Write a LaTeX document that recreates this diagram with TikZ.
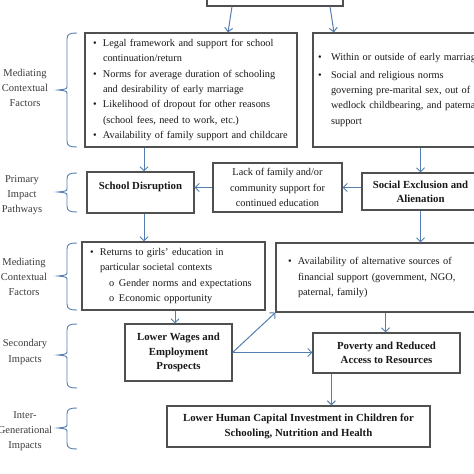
\documentclass[tikz,border=0pt]{standalone}
\usepackage{fontspec}
\setmainfont{Liberation Serif}
\usetikzlibrary{arrows.meta,calc}
\definecolor{arrowblue}{RGB}{84,126,176}
\definecolor{boxgray}{RGB}{80,80,80}
\definecolor{txt}{RGB}{25,25,25}
\definecolor{labtxt}{RGB}{60,60,60}
\newcommand\bitem[2]{\mbox{\makebox[#1][l]{\textbullet}#2}}
\newcommand\cont[2]{\mbox{\hspace*{#1}#2}}
\newcommand\subitm[1]{\mbox{\hspace*{19pt}\makebox[10pt][l]{o}#1}}
\newcommand\mybrace[3]{%
  \draw[brace] (77,#1) .. controls (70,#1) and (67,{#1+1}) .. (67,{#1+6}) -- (67,{#3-4})
    .. controls (67,{#3-1}) .. (58,#3) .. controls (67,{#3+1}) .. (67,{#3+4})
    -- (67,{#2-6}) .. controls (67,{#2-1}) and (70,#2) .. (77,#2);}
\begin{document}
\begin{tikzpicture}[x=1pt,y=-1pt,
  box/.style={draw=boxgray, line width=1.1pt, inner sep=0pt, text=txt,
    font=\fontsize{10.3}{15.3}\selectfont, align=center},
  bbox/.style={box, font=\fontsize{10.8}{14.3}\selectfont\bfseries},
  arr/.style={draw=arrowblue, line width=1pt, -{Straight Barb[length=4pt,width=8pt]}},
  brace/.style={draw=arrowblue, line width=0.9pt},
  lab/.style={text=labtxt, font=\fontsize{10.5}{15.3}\selectfont, align=center, inner sep=0pt}]
\useasboundingbox (0,0) rectangle (474,474);
\clip (0,0) rectangle (474,474);
\fill[white] (0,0) rectangle (474,474);

% top (cut-off) box
\node[box, minimum width=136pt, minimum height=40pt] (top) at (275,-14) {};

% row 1
\node[box, minimum width=212pt, minimum height=114pt, inner xsep=8pt, text width=196pt, align=left] (L1) at (191,90) {%
\bitem{10pt}{Legal framework and support for school}\\
\cont{10pt}{continuation/return}\\
\bitem{10pt}{Norms for average duration of schooling}\\
\cont{10pt}{and desirability of early marriage}\\
\bitem{10pt}{Likelihood of dropout for other reasons}\\
\cont{10pt}{(school fees, need to work, etc.)}\\
\bitem{10pt}{Availability of family support and childcare}};

\node[box, minimum width=212pt, minimum height=114pt, inner xsep=5pt, text width=202pt, align=left] (R1) at (419,90) {%
\bitem{13pt}{Within or outside of early marriage}\\[2pt]
\bitem{13pt}{Social and religious norms}\\
\cont{13pt}{governing pre-marital sex, out of}\\
\cont{13pt}{wedlock childbearing, and paternal}\\
\cont{13pt}{support}};

% row 2
\node[bbox, minimum width=107pt, minimum height=41pt] (SD) at (140.5,192.5) {School Disruption\\\mbox{}};
\node[box, minimum width=129pt, minimum height=49pt] (Lack) at (277.5,187.5) {Lack of family and/or\\community support for\\continued education};
\node[bbox, minimum width=117pt, minimum height=37pt] (SE) at (420.5,191.5) {Social Exclusion and\\Alienation};

% row 3
\node[box, minimum width=183pt, minimum height=68pt, inner xsep=8pt, text width=167pt, align=left] (Ret) at (173.5,276) {%
\bitem{10pt}{Returns to girls’ education in}\\
\cont{10pt}{particular societal contexts}\\
\subitm{Gender norms and expectations}\\
\subitm{Economic opportunity}};
\node[box, minimum width=219pt, minimum height=69pt, inner xsep=12pt, text width=195pt, align=left] (Av) at (385.5,277.5) {%
\bitem{10pt}{Availability of alternative sources of}\\
\cont{10pt}{financial support (government, NGO,}\\
\cont{10pt}{paternal, family)}};

% row 4
\node[bbox, minimum width=107pt, minimum height=57pt] (LW) at (178.5,352.5) {Lower Wages and\\Employment\\Prospects};
\node[bbox, minimum width=147pt, minimum height=40pt] (Pov) at (386.5,353) {Poverty and Reduced\\Access to Resources};

% row 5
\node[bbox, minimum width=263pt, minimum height=41pt] (LH) at (298.5,426.5) {Lower Human Capital Investment in Children for\\Schooling, Nutrition and Health};

% helper coordinates
\path (SD.north) ++(3.5,0) coordinate (sdx);
\path (Ret.south) ++(1.5,0) coordinate (rs);
\path (Pov.south west) ++(19,0) coordinate (pv);

% arrows
\draw[arr] ([xshift=-43pt]top.south) -- ([xshift=37pt]L1.north);
\draw[arr] ([xshift=55pt]top.south) -- ([xshift=-85pt]R1.north);
\draw[arr] (sdx |- L1.south) -- (sdx);
\draw[arr] (SE.north |- R1.south) -- (SE.north);
\draw[arr] (Lack.east -| SE.west) -- (Lack.east);
\draw[arr] (Lack.west) -- (Lack.west -| SD.east);
\draw[arr] (sdx |- SD.south) -- (sdx |- Ret.north);
\draw[arr] (SE.south) -- (SE.south |- Av.north);
\draw[arr] (rs) -- (rs |- LW.north);
\draw[arr] (Av.south) -- (Av.south |- Pov.north);
\draw[arr] (LW.east) -- (LW.east -| Pov.west);
\draw[arr] (LW.east) -- (Av.south west);
\draw[arr] (pv) -- (pv |- LH.north);

% braces
\mybrace{33}{147}{90}
\mybrace{173}{212}{192}
\mybrace{243}{310}{276}
\mybrace{324}{388}{355}
\mybrace{408}{449}{428}

% labels
\node[lab] (lab1) at (25,88) {Mediating\\Contextual\\Factors};
\node[lab] (lab2) at (22,195) {Primary\\Impact\\Pathways};
\node[lab] (lab3) at (24,277) {Mediating\\Contextual\\Factors};
\node[lab] (lab4) at (25,352) {Secondary\\Impacts};
\node[lab] (lab5) at (25,431) {Inter-\\Generational\\Impacts};
\end{tikzpicture}
\end{document}
